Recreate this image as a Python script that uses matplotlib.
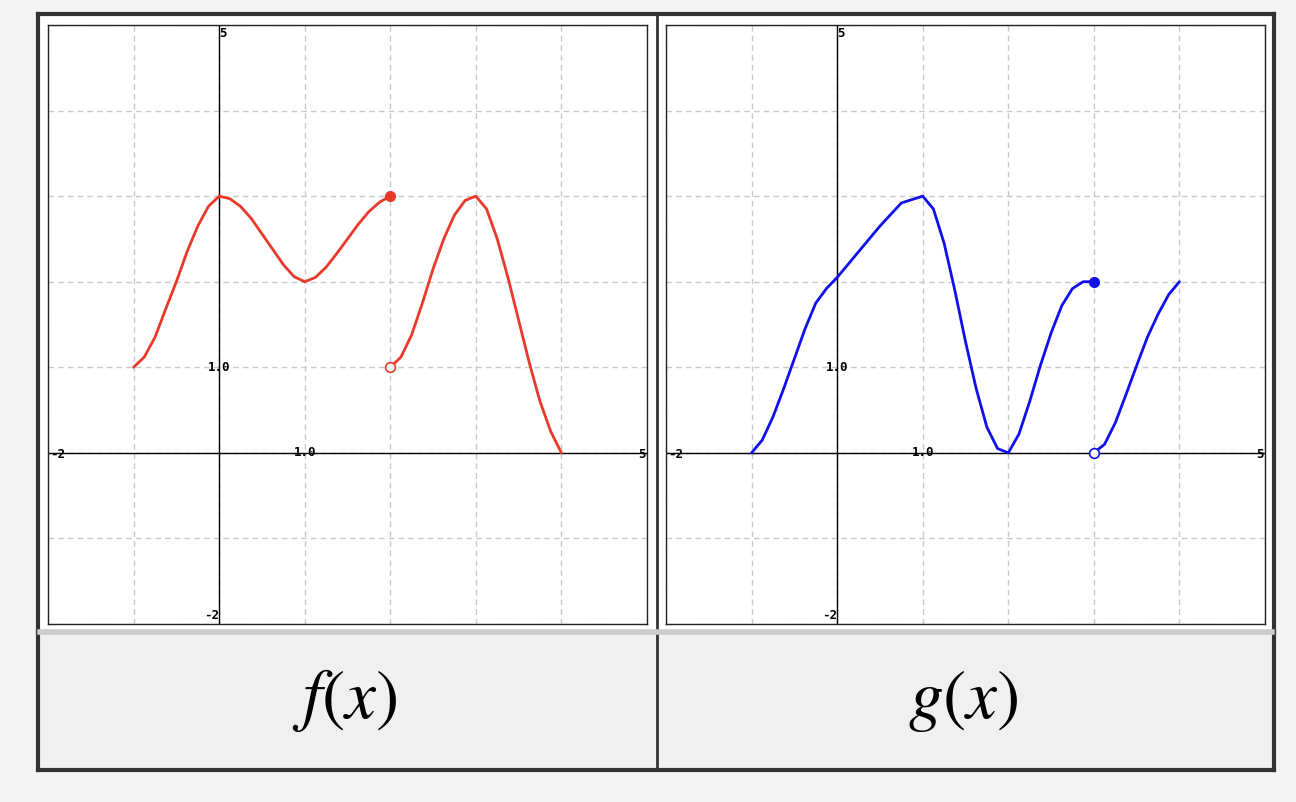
import matplotlib
matplotlib.use("Agg")
import matplotlib.pyplot as plt
from matplotlib.patches import Rectangle
from matplotlib.lines import Line2D

plt.rcParams["mathtext.fontset"] = "stix"
W, H = 1296, 802
f1_x = [-1, -0.875, -0.75, -0.625, -0.5, -0.375, -0.25, -0.125, 0, 0.125, 0.25, 0.375, 0.5, 0.625, 0.75, 0.875, 1, 1.125, 1.25, 1.375, 1.5, 1.625, 1.75, 1.875, 2]
f1_y = [1, 1.12, 1.35, 1.68, 2.0, 2.35, 2.65, 2.88, 3, 2.97, 2.88, 2.74, 2.56, 2.38, 2.2, 2.06, 2, 2.05, 2.17, 2.33, 2.5, 2.67, 2.82, 2.93, 3]
f2_x = [2, 2.125, 2.25, 2.375, 2.5, 2.625, 2.75, 2.875, 3, 3.125, 3.25, 3.375, 3.5, 3.625, 3.75, 3.875, 4]
f2_y = [1, 1.12, 1.38, 1.75, 2.15, 2.5, 2.78, 2.95, 3, 2.85, 2.5, 2.05, 1.55, 1.05, 0.6, 0.25, 0]
g1_x = [-1, -0.875, -0.75, -0.625, -0.5, -0.375, -0.25, -0.125, 0, 0.25, 0.5, 0.75, 1, 1.125, 1.25, 1.375, 1.5, 1.625, 1.75, 1.875, 2, 2.125, 2.25, 2.375, 2.5, 2.625, 2.75, 2.875, 3]
g1_y = [0, 0.15, 0.42, 0.75, 1.1, 1.45, 1.75, 1.92, 2.05, 2.35, 2.65, 2.92, 3, 2.85, 2.45, 1.9, 1.3, 0.75, 0.3, 0.05, 0, 0.22, 0.6, 1.02, 1.4, 1.72, 1.92, 2.0, 2.0]
g2_x = [3, 3.125, 3.25, 3.375, 3.5, 3.625, 3.75, 3.875, 4]
g2_y = [0, 0.1, 0.35, 0.68, 1.02, 1.35, 1.62, 1.85, 2]
labels = ["$f(x)$", "$g(x)$"]

fig = plt.figure(figsize=(W/100, H/100), dpi=100)
fig.patch.set_facecolor("#f4f4f4")

def fx(p): return p / W
def fy(p): return 1 - p / H

fig.add_artist(Rectangle((fx(40), fy(768)), fx(1232), (768-16)/H, facecolor="#f0f0f0", edgecolor="none", zorder=0))
for x0 in (40, 657):
    fig.add_artist(Rectangle((fx(x0), fy(630)), (617)/W, (630-16)/H, facecolor="white", edgecolor="none", zorder=0))
fig.add_artist(Line2D([fx(38), fx(1274)], [fy(14), fy(14)], color="#333", lw=3))
fig.add_artist(Line2D([fx(38), fx(1274)], [fy(770), fy(770)], color="#333", lw=3))
fig.add_artist(Line2D([fx(38), fx(38)], [fy(14), fy(770)], color="#333", lw=3))
fig.add_artist(Line2D([fx(1274), fx(1274)], [fy(14), fy(770)], color="#333", lw=3))
fig.add_artist(Line2D([fx(657), fx(657)], [fy(14), fy(770)], color="#333", lw=2))
fig.add_artist(Line2D([fx(40), fx(1272)], [fy(632), fy(632)], color="#cccccc", lw=4))

def panel(left, segs, color, filled, opened, label):
    ax = fig.add_axes([fx(left), fy(624), 599/W, 599/H])
    ax.set_xlim(-2, 5); ax.set_ylim(-2, 5)
    ax.set_xticks(range(-2, 6)); ax.set_yticks(range(-2, 6))
    ax.grid(True, ls=(0, (4, 3)), color="#c8c8c8", lw=1)
    ax.tick_params(length=0, labelbottom=False, labelleft=False)
    for s in ax.spines.values():
        s.set_color("#222"); s.set_linewidth(1)
    ax.axhline(0, color="black", lw=1); ax.axvline(0, color="black", lw=1)
    tk = dict(family="DejaVu Sans Mono", fontsize=9, fontweight="bold")
    ax.text(0.0, 4.98, "5", va="top", ha="left", **tk)
    ax.text(0.0, -1.98, "-2", va="bottom", ha="right", **tk)
    ax.text(-1.98, -0.02, "-2", va="center", ha="left", **tk)
    ax.text(4.98, -0.02, "5", va="center", ha="right", **tk)
    ax.text(0, 1, "1.0", va="center", ha="center", **tk)
    ax.text(1, 0, "1.0", va="center", ha="center", **tk)
    for xs, ys in segs:
        ax.plot(xs, ys, color=color, lw=2, solid_capstyle="round")
    ax.plot(*filled, "o", color=color, ms=7)
    ax.plot(*opened, "o", mfc="white", mec=color, ms=7, mew=1.2)
    fig.text(fx(left + 297), fy(700), label, ha="center", va="center", fontsize=50)

panel(48, [(f1_x, f1_y), (f2_x, f2_y)], "#e8392a", (f1_x[-1], f1_y[-1]), (f2_x[0], f2_y[0]), labels[0])
panel(666, [(g1_x, g1_y), (g2_x, g2_y)], "#1010ee", (g1_x[-1], g1_y[-1]), (g2_x[0], g2_y[0]), labels[1])

fig.savefig("out.png", dpi=100, facecolor=fig.get_facecolor())
